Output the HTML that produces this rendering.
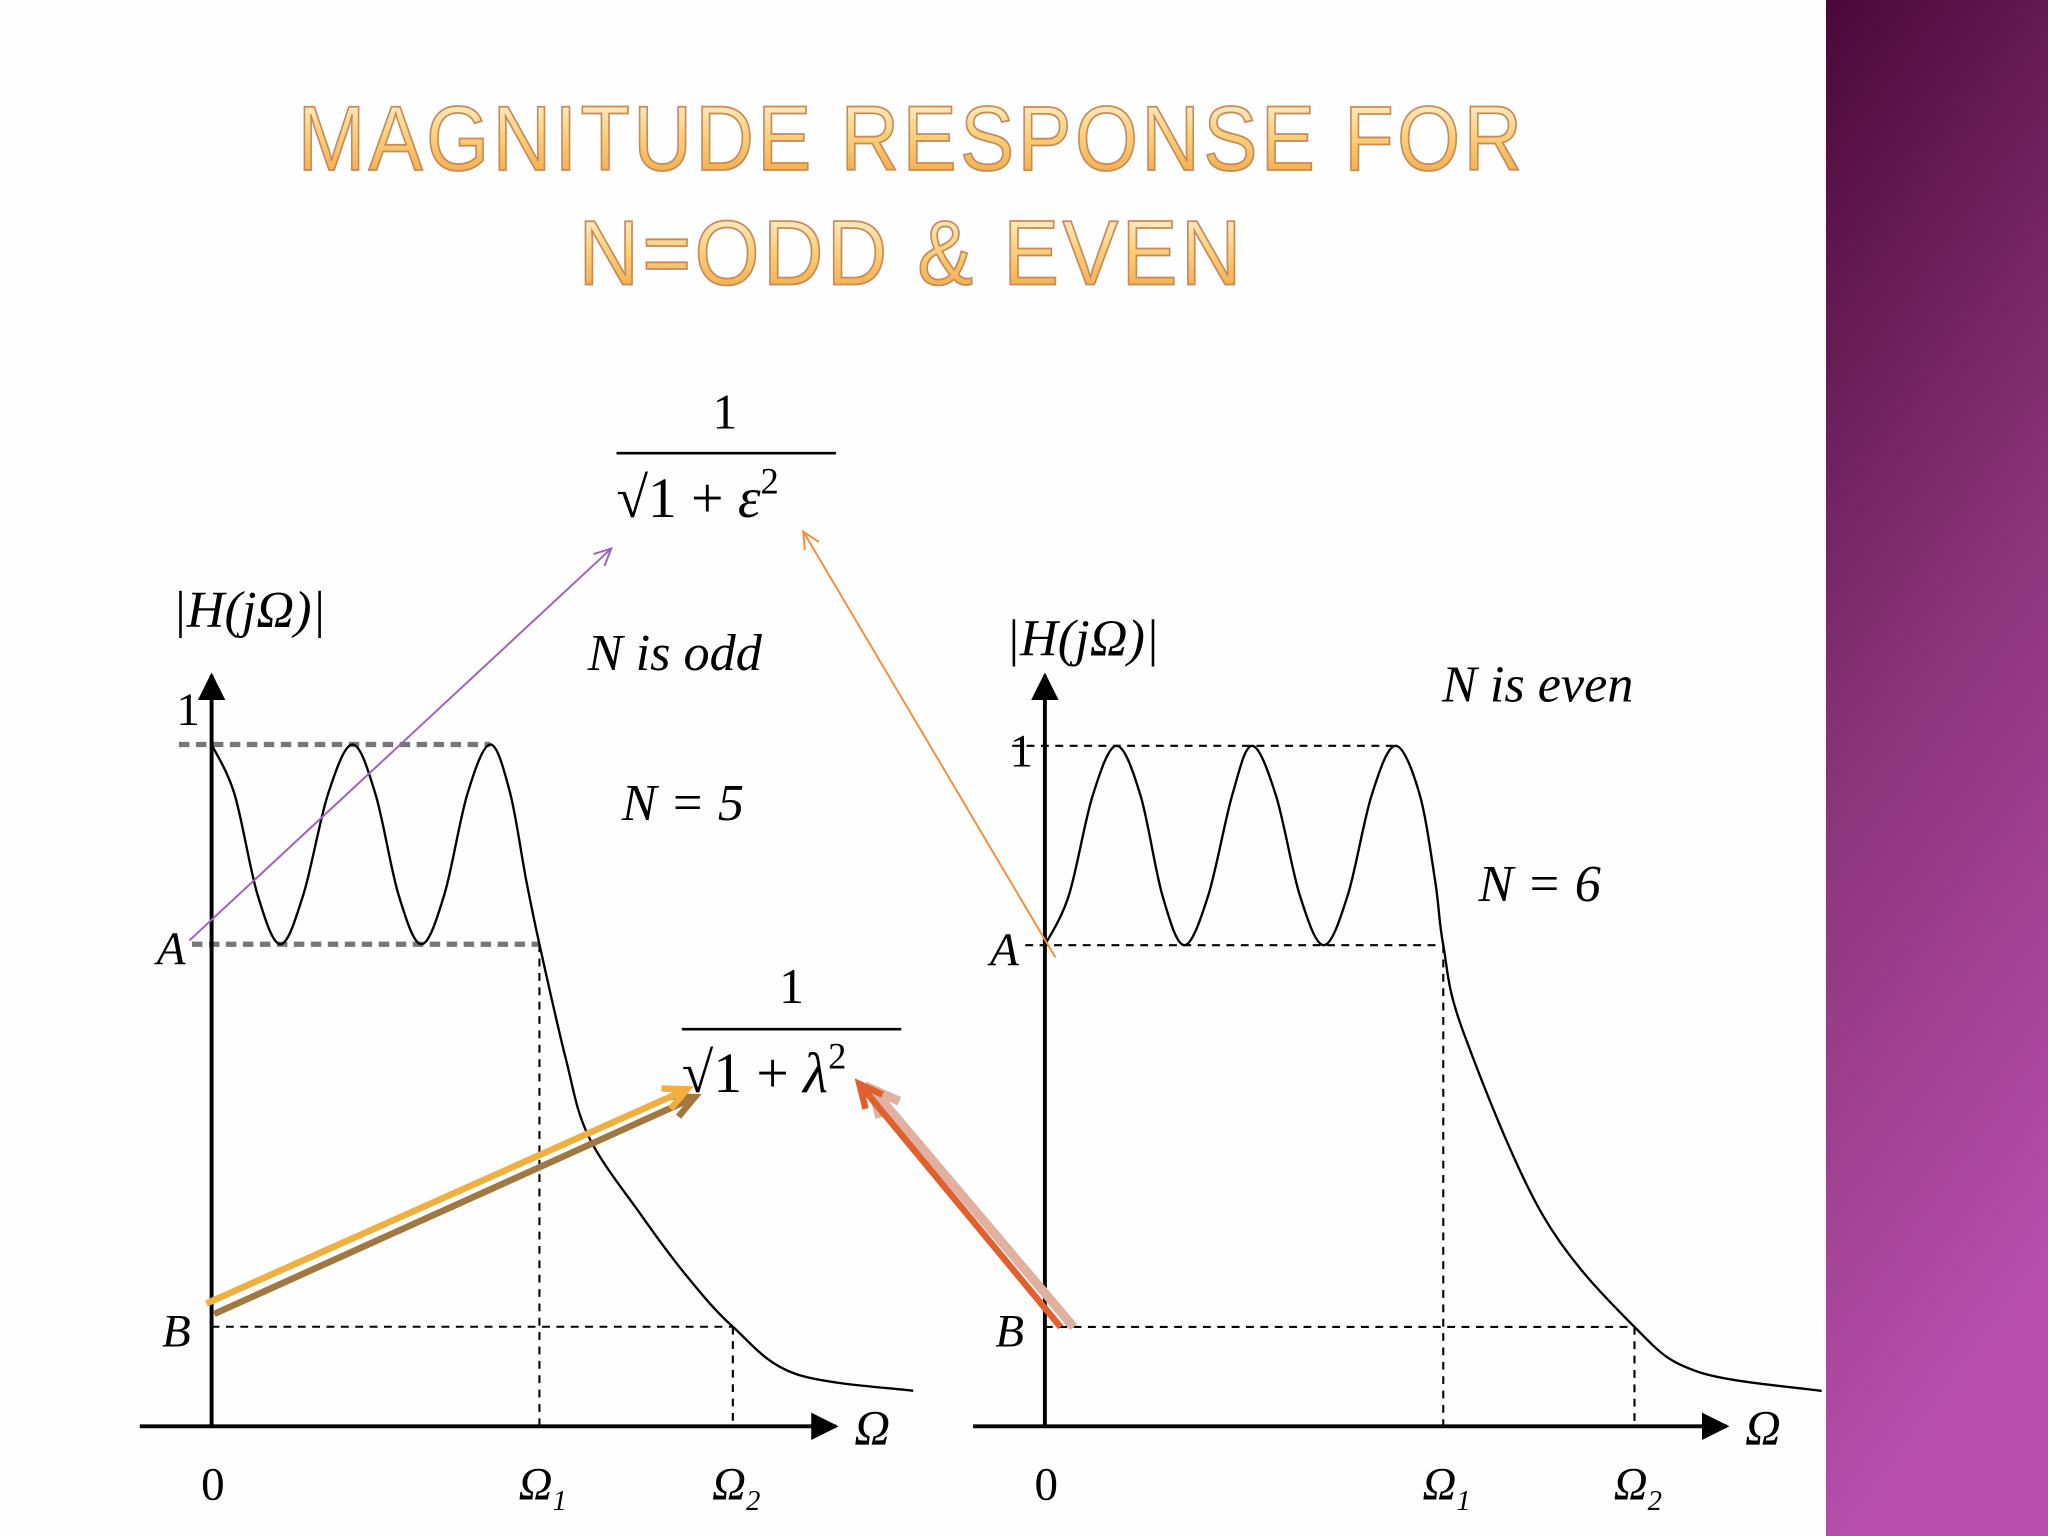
<!DOCTYPE html>
<html><head><meta charset="utf-8"><style>
html,body{margin:0;padding:0;background:#fff;}
svg{display:block;}
</style></head><body>
<svg width="2048" height="1536" viewBox="0 0 1568 1176" xmlns="http://www.w3.org/2000/svg">
<defs>
<linearGradient id="side" x1="0" y1="0" x2="0.2" y2="1">
<stop offset="0" stop-color="#4a0838"/><stop offset="0.5" stop-color="#8a3478"/><stop offset="1" stop-color="#b84fae"/></linearGradient>
<linearGradient id="tg" x1="0" y1="0" x2="0" y2="1">
<stop offset="0" stop-color="#fff6e6"/><stop offset="0.45" stop-color="#fbd27e"/><stop offset="1" stop-color="#f0a13a"/></linearGradient>
<marker id="ah" viewBox="0 0 10 10" refX="9" refY="5" markerWidth="7" markerHeight="7" orient="auto"><path d="M0,0 L10,5 L0,10 Z" fill="#000"/></marker>
</defs>
<rect x="0" y="0" width="1398" height="1176" fill="#fefefe"/>
<rect x="1398" y="0" width="170" height="1176" fill="url(#side)"/>
<g font-family="Liberation Sans, sans-serif" font-size="70" fill="url(#tg)" stroke="#c98a5a" stroke-width="1.4" text-anchor="middle" letter-spacing="3">
<text x="698" y="130" textLength="940" lengthAdjust="spacingAndGlyphs">MAGNITUDE RESPONSE FOR</text>
<text x="698" y="218" textLength="510" lengthAdjust="spacingAndGlyphs">N=ODD &amp; EVEN</text>
</g>
<g font-family="Liberation Serif, serif" fill="#000">
<text x="555" y="328" font-size="38" text-anchor="middle">1</text>
<line x1="472" y1="347" x2="640" y2="347" stroke="#000" stroke-width="2"/>
<text x="472" y="396" font-size="44" xml:space="preserve">√1 + <tspan font-style="italic">ε</tspan><tspan font-size="28" dy="-18">2</tspan></text>
</g>
<g font-family="Liberation Serif, serif" fill="#000">
<text x="606" y="768" font-size="38" text-anchor="middle">1</text>
<line x1="522" y1="788" x2="690" y2="788" stroke="#000" stroke-width="2"/>
<text x="522" y="836" font-size="44" xml:space="preserve">√1 + <tspan font-style="italic">λ</tspan><tspan font-size="28" dy="-18">2</tspan></text>
</g>
<g id="charts"></g>
</svg>
<script>
// Left chart (N odd): Ω values and magnitudes
const oddFreq = [0, 0.07, 0.14, 0.21, 0.28, 0.355, 0.43, 0.5, 0.57, 0.64, 0.71, 0.78, 0.85, 0.91, 0.96, 1.0, 1.08, 1.15, 1.31, 1.45, 1.59, 1.78, 2.14];
const oddMag  = [1, 0.927, 0.78, 0.707, 0.78, 0.927, 1, 0.927, 0.78, 0.707, 0.78, 0.927, 1, 0.93, 0.8, 0.707, 0.54, 0.425, 0.31, 0.22, 0.146, 0.077, 0.052];
// Right chart (N even)
const evenFreq = [0, 0.06, 0.12, 0.18, 0.24, 0.295, 0.35, 0.41, 0.47, 0.52, 0.58, 0.64, 0.70, 0.76, 0.82, 0.88, 0.94, 0.98, 1.0, 1.05, 1.25, 1.48, 1.64, 1.95];
const evenMag  = [0.707, 0.78, 0.927, 1, 0.927, 0.78, 0.707, 0.78, 0.927, 1, 0.927, 0.78, 0.707, 0.78, 0.927, 1, 0.93, 0.8, 0.707, 0.58, 0.31, 0.146, 0.08, 0.052];
const levelA = 0.707, levelB = 0.146;
const oddOmega2 = 1.59, evenOmega2 = 1.48;

const NS = 'http://www.w3.org/2000/svg';
const root = document.getElementById('charts');
function mk(tag, attrs, parent){const e=document.createElementNS(NS,tag);for(const k in attrs)e.setAttribute(k,attrs[k]);(parent||root).appendChild(e);return e;}
function smooth(pts){let d='M'+pts[0][0]+','+pts[0][1];for(let i=0;i<pts.length-1;i++){const p0=pts[i-1]||pts[i],p1=pts[i],p2=pts[i+1],p3=pts[i+2]||p2;const c1=[p1[0]+(p2[0]-p0[0])/6,p1[1]+(p2[1]-p0[1])/6],c2=[p2[0]-(p3[0]-p1[0])/6,p2[1]-(p3[1]-p1[1])/6];d+=' C'+c1+' '+c2+' '+p2;}return d;}
function txt(x,y,s,size,parent,italic){const t=mk('text',{x:x,y:y,'font-family':'Liberation Serif, serif','font-size':size,'font-style':italic?'italic':'normal',fill:'#000'},parent);t.textContent=s;return t;}

function chart(name, ox, oy, xUnit, yUnit, xEnd, freq, mag, om2, heavyDash, titleDy, oneX, oneY){
  const g=mk('g',{});
  
  
  const X=f=>ox+f*xUnit, Y=m=>oy-m*yUnit;
  const dash = heavyDash ? {stroke:'#777','stroke-width':4,'stroke-dasharray':'8,5'} : {stroke:'#000','stroke-width':1.6,'stroke-dasharray':'6,5'};
  const lastPeak = Math.max(...freq.filter((f,i)=>mag[i]===1));
  let l=mk('line',Object.assign({x1:ox-25,y1:Y(1),x2:X(lastPeak),y2:Y(1)},dash),g);
  
  
  l=mk('line',Object.assign({x1:ox-15,y1:Y(levelA),x2:X(1),y2:Y(levelA)},dash),g);
  
  
  l=mk('line',{x1:ox,y1:Y(levelB),x2:X(om2),y2:Y(levelB),stroke:'#000','stroke-width':1.6,'stroke-dasharray':'6,5'},g);
  
  
  l=mk('line',{x1:X(1),y1:Y(levelA),x2:X(1),y2:oy,stroke:'#000','stroke-width':1.6,'stroke-dasharray':'6,5'},g);
  
  
  l=mk('line',{x1:X(om2),y1:Y(levelB),x2:X(om2),y2:oy,stroke:'#000','stroke-width':1.6,'stroke-dasharray':'6,5'},g);
  
  
  l=mk('line',{x1:ox,y1:oy,x2:ox,y2:oy-575,stroke:'#000','stroke-width':3,'marker-end':'url(#ah)'},g);
  
  
  l=mk('line',{x1:ox-55,y1:oy,x2:xEnd,y2:oy,stroke:'#000','stroke-width':3,'marker-end':'url(#ah)'},g);
  
  
  const pts=freq.map((f,i)=>[X(f),Y(mag[i])]);
  const c=mk('path',{d:smooth(pts),fill:'none',stroke:'#000','stroke-width':1.8},g);
  
  
  let t=txt(ox-30,oy-titleDy,'|H(jΩ)|',40,g,true);  
  t=txt(oneX,oneY,'1',36,g,false);  
  t=txt(ox-42,Y(levelA)+15,'A',36,g,true);  
  t=txt(ox-38,Y(levelB)+15,'B',36,g,true);  
  t=txt(ox-8,oy+56,'0',36,g,false);  
  t=txt(X(1)-16,oy+56,'Ω',36,g,true); mk('tspan',{'font-size':22,dy:8},t).textContent='1';  
  t=txt(X(om2)-16,oy+56,'Ω',36,g,true); mk('tspan',{'font-size':22,dy:8},t).textContent='2';  
  t=txt(xEnd+14,oy+14,'Ω',38,g,true);  
  return g;
}
chart('odd-chart',162,1092,251,522,640,oddFreq,oddMag,oddOmega2,true,612,135,555);
chart('even-chart',800,1092,305,521,1322,evenFreq,evenMag,evenOmega2,false,590,773,587);
let t=txt(450,513,'N is odd',40,root,true);  
t=txt(476,628,'N = 5',40,root,true);  
t=txt(1104,537,'N is even',40,root,true);  
t=txt(1132,690,'N = 6',40,root,true);  
function arrow(name,x1,y1,x2,y2,col,w){const g=mk('g',{});


mk('line',{x1:x1,y1:y1,x2:x2,y2:y2,stroke:col,'stroke-width':w},g);
const a=Math.atan2(y2-y1,x2-x1),L=12+w*1.5;
mk('path',{d:`M${x2-L*Math.cos(a-0.45)},${y2-L*Math.sin(a-0.45)} L${x2},${y2} L${x2-L*Math.cos(a+0.45)},${y2-L*Math.sin(a+0.45)}`,fill:'none',stroke:col,'stroke-width':w},g);}
arrow('arrow-a-to-epsilon',145,720,468,420,'#a060c0',1.5);
arrow('arrow-a-to-epsilon-right',808,733,615,407,'#f09040',1.5);
arrow('arrow-b-to-lambda-shadow',164,1006,532,840,'#a07840',5);
arrow('arrow-b-to-lambda',158,998,526,834,'#f0b040',5);
arrow('arrow-b-right-shadow',822,1016,668,834,'#e0b0a0',7);
arrow('arrow-b-right-to-lambda',812,1016,658,830,'#e06030',5);
</script>
</body></html>
